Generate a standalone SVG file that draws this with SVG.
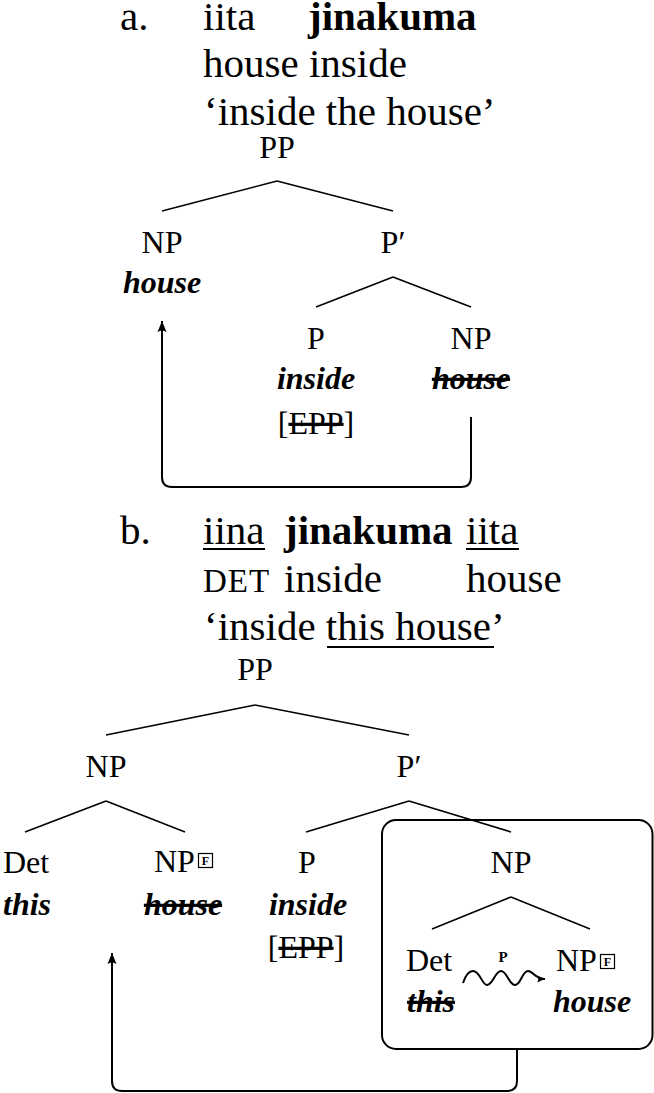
<svg xmlns="http://www.w3.org/2000/svg" width="654" height="1093" viewBox="0 0 654 1093">
<defs>
<style>
.g{font-family:"Liberation Serif","Times New Roman",serif;font-size:41px;fill:#000}
.b{font-weight:bold}
.t{font-family:"Liberation Serif","Times New Roman",serif;font-size:32px;fill:#000;text-anchor:middle}
.i{font-style:italic;font-weight:bold}
.s{text-decoration:line-through}
.ln{stroke:#000;stroke-width:1.6;fill:none}
.mv{stroke:#000;stroke-width:2;fill:none}
.fb{fill:#fff;stroke:#000;stroke-width:1.2}
.ft{font-family:"Liberation Serif",serif;font-size:12px;font-weight:bold;text-anchor:middle;fill:#000}
</style>
<marker id="ah" viewBox="-12 -6 13 12" refX="0" refY="0" markerWidth="13" markerHeight="12" markerUnits="userSpaceOnUse" orient="auto">
<path d="M0,0 L-11,-4.5 Q-8,0 -11,4.5 Z" fill="#000"/>
</marker>
<marker id="ah2" viewBox="-10 -5 11 10" refX="0" refY="0" markerWidth="10" markerHeight="9" markerUnits="userSpaceOnUse" orient="auto">
<path d="M0,0 L-9,-4 Q-6,0 -9,4 Z" fill="#000"/>
</marker>
</defs>
<rect width="654" height="1093" fill="#fff"/>

<g id="gloss-a">
<text class="g" x="120" y="30">a.</text>
<text class="g" x="203" y="30">iita</text>
<text class="g b" x="308" y="30">jinakuma</text>
<text class="g" x="203" y="77">house inside</text>
<text class="g" x="204" y="125">‘inside the house’</text>
</g>

<g id="gloss-b">
<text class="g" x="120" y="544">b.</text>
<text class="g" x="203" y="544">iina</text>
<text class="g b" x="284" y="544">jinakuma</text>
<text class="g" x="466" y="544">iita</text>
<line x1="203" y1="549" x2="265" y2="549" stroke="#000" stroke-width="2"/>
<line x1="466" y1="549" x2="519" y2="549" stroke="#000" stroke-width="2"/>
<text class="g" x="203" y="592" style="font-size:33px" letter-spacing="1">DET</text>
<text class="g" x="284" y="592">inside</text>
<text class="g" x="466" y="592">house</text>
<text class="g" x="204" y="640">‘inside this house’</text>
<line x1="327" y1="647" x2="494" y2="647" stroke="#000" stroke-width="2"/>
</g>

<g id="tree-a">
<g id="a-PP"><text class="t" x="277" y="158">PP</text></g>
<g id="a-NP1"><text class="t" x="162" y="253">NP</text><text class="t i" x="162" y="293">house</text></g>
<g id="a-Pbar"><text class="t" x="393" y="253">P′</text></g>
<g id="a-P"><text class="t" x="316" y="349">P</text><text class="t i" x="316" y="389">inside</text><text class="t" x="316" y="434">[<tspan class="s">EPP</tspan>]</text></g>
<g id="a-NP2"><text class="t" x="471" y="349">NP</text><text class="t i s" x="471" y="389">house</text></g>
</g>

<g id="tree-b">
<g id="b-PP"><text class="t" x="255" y="680">PP</text></g>
<g id="b-NP"><text class="t" x="106" y="777">NP</text></g>
<g id="b-Pbar"><text class="t" x="409" y="777">P′</text></g>
<g id="b-Det"><text class="t" x="26" y="873">Det</text><text class="t i" x="27" y="915">this</text></g>
<g id="b-NPF"><text class="t" x="154" y="872" style="text-anchor:start">NP</text><rect class="fb" x="198.5" y="853.5" width="14" height="14"/><text class="ft" x="205.5" y="865">F</text><text class="t i s" x="183" y="915">house</text></g>
<g id="b-P"><text class="t" x="307" y="873">P</text><text class="t i" x="308" y="915">inside</text><text class="t" x="306" y="958">[<tspan class="s">EPP</tspan>]</text></g>
<g id="b-box"><rect x="382" y="820" width="270.5" height="229" rx="14" fill="none" stroke="#000" stroke-width="2"/></g>
<g id="b-NP2"><text class="t" x="511" y="873">NP</text></g>
<g id="b-Det2"><text class="t" x="429" y="971">Det</text><text class="t i s" x="431" y="1012">this</text></g>
<g id="b-NPF2"><text class="t" x="556" y="971" style="text-anchor:start">NP</text><rect class="fb" x="600.5" y="954.5" width="14" height="14"/><text class="ft" x="607.5" y="966">F</text><text class="t i" x="592" y="1012">house</text></g>
<g id="b-Plabel"><text class="t" x="503" y="962" style="font-size:15px;font-weight:bold">P</text></g>
</g>

<g id="connectors">
<line class="ln" x1="277" y1="181" x2="162" y2="211"/>
<line class="ln" x1="277" y1="181" x2="393" y2="211"/>
<line class="ln" x1="393" y1="277" x2="316" y2="307"/>
<line class="ln" x1="393" y1="277" x2="471" y2="307"/>
<line class="ln" x1="255" y1="705" x2="106" y2="735"/>
<line class="ln" x1="255" y1="705" x2="409" y2="735"/>
<line class="ln" x1="106" y1="801" x2="25" y2="832"/>
<line class="ln" x1="106" y1="801" x2="185" y2="832"/>
<line class="ln" x1="409" y1="801" x2="306" y2="832"/>
<line class="ln" x1="409" y1="801" x2="511" y2="832"/>
<line class="ln" x1="511" y1="897" x2="432" y2="929"/>
<line class="ln" x1="511" y1="897" x2="590" y2="929"/>
<path class="mv" d="M471,417 V477 Q471,487 461,487 H172 Q162,487 162,477 V321" marker-end="url(#ah)"/>
<path class="mv" d="M517,1049 V1081 Q517,1091 507,1091 H122 Q112,1091 112,1081 V953" marker-end="url(#ah)"/>
<path class="mv" d="M463,983 C466,974 470,971 473,971 C480,971 482,985 487,985 C493,985 495,971 501,971 C507,971 509,985 515,985 C521,985 522,971 528,971 C533,971 535,979 545,979" marker-end="url(#ah2)"/>
</g>
</svg>
